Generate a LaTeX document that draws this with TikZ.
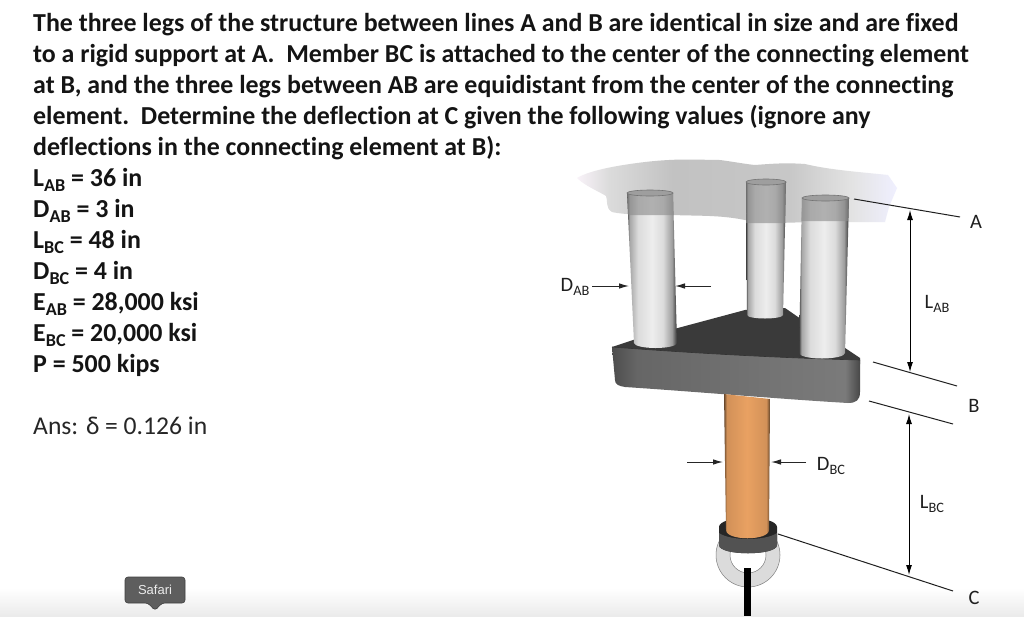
\documentclass[tikz,border=0pt]{standalone}
\usepackage{fontspec}
\setmainfont[Ligatures=NoCommon]{Carlito}
\newfontfamily\tipfont{Liberation Sans}
\usetikzlibrary{arrows.meta}
\newcommand{\sbx}[1]{\raisebox{-0.2em}{\fontsize{0.7em}{1em}\selectfont #1}}
\definecolor{tipgray}{HTML}{5E5E5E}
\definecolor{platetop}{HTML}{3A3A3A}
\definecolor{rodorange}{HTML}{E9A162}
\pgfdeclarehorizontalshading{legshade}{100bp}{color(0bp)=(black!75);color(25bp)=(black!75);color(27.5bp)=(black!35);color(36bp)=(black!14);color(50bp)=(black!7);color(61bp)=(black!14);color(70bp)=(black!38);color(75bp)=(black!80);color(100bp)=(black!80)}
\pgfdeclarehorizontalshading{rodshade}{100bp}{color(0bp)=(rodorange!45!black);color(25bp)=(rodorange!45!black);color(28bp)=(rodorange!90!black);color(50bp)=(rodorange);color(71bp)=(rodorange!90!black);color(75bp)=(rodorange!40!black);color(100bp)=(rodorange!40!black)}
\pgfdeclarehorizontalshading{frontshade}{100bp}{color(0bp)=(black!70);color(25bp)=(black!70);color(30bp)=(black!60);color(55bp)=(black!55);color(72bp)=(black!52);color(75bp)=(black!72);color(100bp)=(black!72)}
\pgfdeclarehorizontalshading{blobshade}{100bp}{color(0bp)=(white!95!violet);color(25bp)=(white!95!violet);color(30bp)=(black!14);color(40bp)=(black!24);color(58bp)=(black!22);color(68bp)=(black!11);color(75bp)=(white!94!blue);color(100bp)=(white!94!blue)}
\pgfdeclareverticalshading{floorshade}{100bp}{color(0bp)=(black!8);color(25bp)=(black!8);color(75bp)=(white);color(100bp)=(white)}
\tikzset{
  bodytext/.style={anchor=base west,inner sep=0pt,font=\fontsize{25.9}{28}\selectfont\bfseries,text=black!92},
  anstext/.style={anchor=base west,inner sep=0pt,font=\fontsize{25.6}{28}\selectfont,text=black!85},
  dimtext/.style={inner sep=0pt,font=\fontsize{20.5}{22}\selectfont,text=black!88},
  dimline/.style={draw=black!88,line width=1pt},
  dimarrow/.style={draw=black,line width=1pt,{Latex[length=10pt,width=6pt]}-{Latex[length=10pt,width=6pt]}},
  sizearrow/.style={draw=black!85,line width=1pt,-{Latex[length=10pt,width=5.5pt]}},
  legband/.style={fill=black!45,fill opacity=0.62},
  legcap/.style={fill=black!38,draw=black!55,line width=0.6pt}
}
\begin{document}
\begin{tikzpicture}[x=1pt,y=-1pt]
\useasboundingbox (0,0) rectangle (1024,616);
\fill[white] (0,0) rectangle (1024,616);
\shade[shading=floorshade] (0,588) rectangle (1024,616);
% support
\shade[shading=blobshade] (577,178) .. controls (590,170) and (620,165) .. (645,162)
  .. controls (680,158) and (700,160) .. (720,160) .. controls (735,162) and (745,164) .. (755,165)
  .. controls (780,163) and (790,163) .. (805,164) .. controls (830,170) and (860,172) .. (888,175)
  -- (897,188) -- (889,207) -- (885,222) .. controls (860,222) and (830,222) .. (810,222)
  .. controls (780,223) and (760,224) .. (745,220) .. controls (720,215) and (700,216) .. (672,215)
  .. controls (650,215) and (625,215) .. (612,212) .. controls (605,208) and (608,200) .. (606,196)
  .. controls (600,192) and (585,186) .. (577,178) -- cycle;
% plate top
\fill[platetop] (612,347) -- (633,340) -- (745,310) -- (785,308) -- (798,317) -- (845,348) -- (860,358) -- (860,364) -- (612,350) -- cycle;
% plate front
\shade[shading=frontshade] (612,347) .. controls (690,353) and (780,358) .. (860,360) -- (860,392) .. controls (860,400) and (856,403) .. (848,403)
  .. controls (780,399) and (700,392) .. (625,387) .. controls (618,386) and (615,384) .. (615,380) -- cycle;
\draw[black!80,line width=0.6pt] (612,347) .. controls (690,353) and (780,358) .. (860,360);
% middle leg
\shade[shading=legshade] (746,182) -- (786,182) -- (783,315) arc[start angle=0,end angle=180,x radius=18,y radius=3.5] -- cycle;
\fill[legband] (746,182) -- (786,182) -- (785.3,223) -- (746,223) -- cycle;
\fill[legcap] (766,182) ellipse[x radius=20,y radius=3];
% left leg
\shade[shading=legshade] (627,193) -- (673,193) -- (677,343) arc[start angle=0,end angle=180,x radius=21.5,y radius=5] -- cycle;
\fill[legband] (627,193) -- (673,193) -- (673.6,215) -- (628.3,215) -- cycle;
\fill[legcap] (650,193) ellipse[x radius=23,y radius=3];
% right leg
\shade[shading=legshade] (802,198) -- (849,198) -- (845,353) arc[start angle=0,end angle=180,x radius=23,y radius=5.5] -- cycle;
\fill[legband] (802,198) -- (849,198) -- (848.4,221) -- (801.4,221) -- cycle;
\fill[legcap] (825.5,198) ellipse[x radius=23.5,y radius=3];
% eye ring
\fill[black!14,even odd rule,draw=black!50,line width=0.5pt] (748,555) ellipse[x radius=32,y radius=32] (748,555) ellipse[x radius=18,y radius=18];
% rod and collar
\fill[black!85] (719,527) .. controls (719,515) and (777,515) .. (777,527) -- (777,545) .. controls (777,556) and (719,556) .. (719,545) -- cycle;
\fill[black!68] (719,533) .. controls (730,541) and (766,541) .. (777,533) -- (777,545) .. controls (777,556) and (719,556) .. (719,545) -- cycle;
\shade[shading=rodshade] (724,394) -- (770,399) -- (769,530) .. controls (769,541) and (726,541) .. (726,530) -- cycle;
% cable
\fill[black] (744,568) rectangle (751,616);
% dimensions
\coordinate (A1) at (854,199); \coordinate (A2) at (960,217);
\coordinate (B1) at (873,362); \coordinate (B2) at (957,386);
\coordinate (B3) at (869,401); \coordinate (B4) at (953,424);
\coordinate (C1) at (778,534); \coordinate (C2) at (953,591);
\draw[dimline] (A1) -- (A2);
\draw[dimline] (B1) -- (B2);
\draw[dimline] (B3) -- (B4);
\draw[dimline] (C1) -- (C2);
\coordinate (LA) at (910,210); \coordinate (LB) at (910,372);
\coordinate (LC) at (909,414); \coordinate (LD) at (909,575);
\draw[dimarrow] (LA) -- (LB);
\draw[dimarrow] (LC) -- (LD);
\coordinate (DA1) at (592,286); \coordinate (DA2) at (629,286);
\coordinate (DA3) at (711,286); \coordinate (DA4) at (675,286);
\coordinate (DB1) at (687,462); \coordinate (DB2) at (723,462);
\coordinate (DB3) at (806,462); \coordinate (DB4) at (771,462);
\draw[sizearrow] (DA1) -- (DA2);
\draw[sizearrow] (DA3) -- (DA4);
\draw[sizearrow] (DB1) -- (DB2);
\draw[sizearrow] (DB3) -- (DB4);
% dimension labels
\node[dimtext] (la) at (976,222) {A};
\node[dimtext] (lb) at (974,406) {B};
\node[dimtext] (lc) at (974,598) {C};
\node[dimtext] (lab) at (937,304) {L\sbx{AB}};
\node[dimtext] (lbc) at (932,504) {L\sbx{BC}};
\node[dimtext] (dbc) at (831,466) {D\sbx{BC}};
\node[dimtext] (dab) at (575,287) {D\sbx{AB}};
% problem text
\node[bodytext] (t1) at (33,31) {The three legs of the structure between lines A and B are identical in size and are fixed};
\node[bodytext] (t2) at (33,62) {to a rigid support at A.\ \ Member BC is attached to the center of the connecting element};
\node[bodytext] (t3) at (33,93) {at B, and the three legs between AB are equidistant from the center of the connecting};
\node[bodytext] (t4) at (33,124) {element.\ \ Determine the deflection at C given the following values (ignore any};
\node[bodytext] (t5) at (33,155) {deflections in the connecting element at B):};
\node[bodytext] (v1) at (33,186) {L\sbx{AB} = 36 in};
\node[bodytext] (v2) at (33,217) {D\sbx{AB} = 3 in};
\node[bodytext] (v3) at (33,248) {L\sbx{BC} = 48 in};
\node[bodytext] (v4) at (33,279) {D\sbx{BC} = 4 in};
\node[bodytext] (v5) at (33,310) {E\sbx{AB} = 28,000 ksi};
\node[bodytext] (v6) at (33,341) {E\sbx{BC} = 20,000 ksi};
\node[bodytext] (v7) at (33,372) {P = 500 kips};
\node[anstext] (ans) at (33,434) {Ans: δ = 0.126 in};
% tooltip
\fill[tipgray,draw=black!75,line width=0.6pt,rounded corners=3pt] (125,577) -- (185,577) -- (185,603) -- (162,603) -- (155,610.5) -- (148,603) -- (125,603) -- cycle;
\node[inner sep=0pt,text=white!92!black,font=\tipfont\fontsize{13}{15}\selectfont] (safari) at (155,590) {Safari};
\end{tikzpicture}
\end{document}
